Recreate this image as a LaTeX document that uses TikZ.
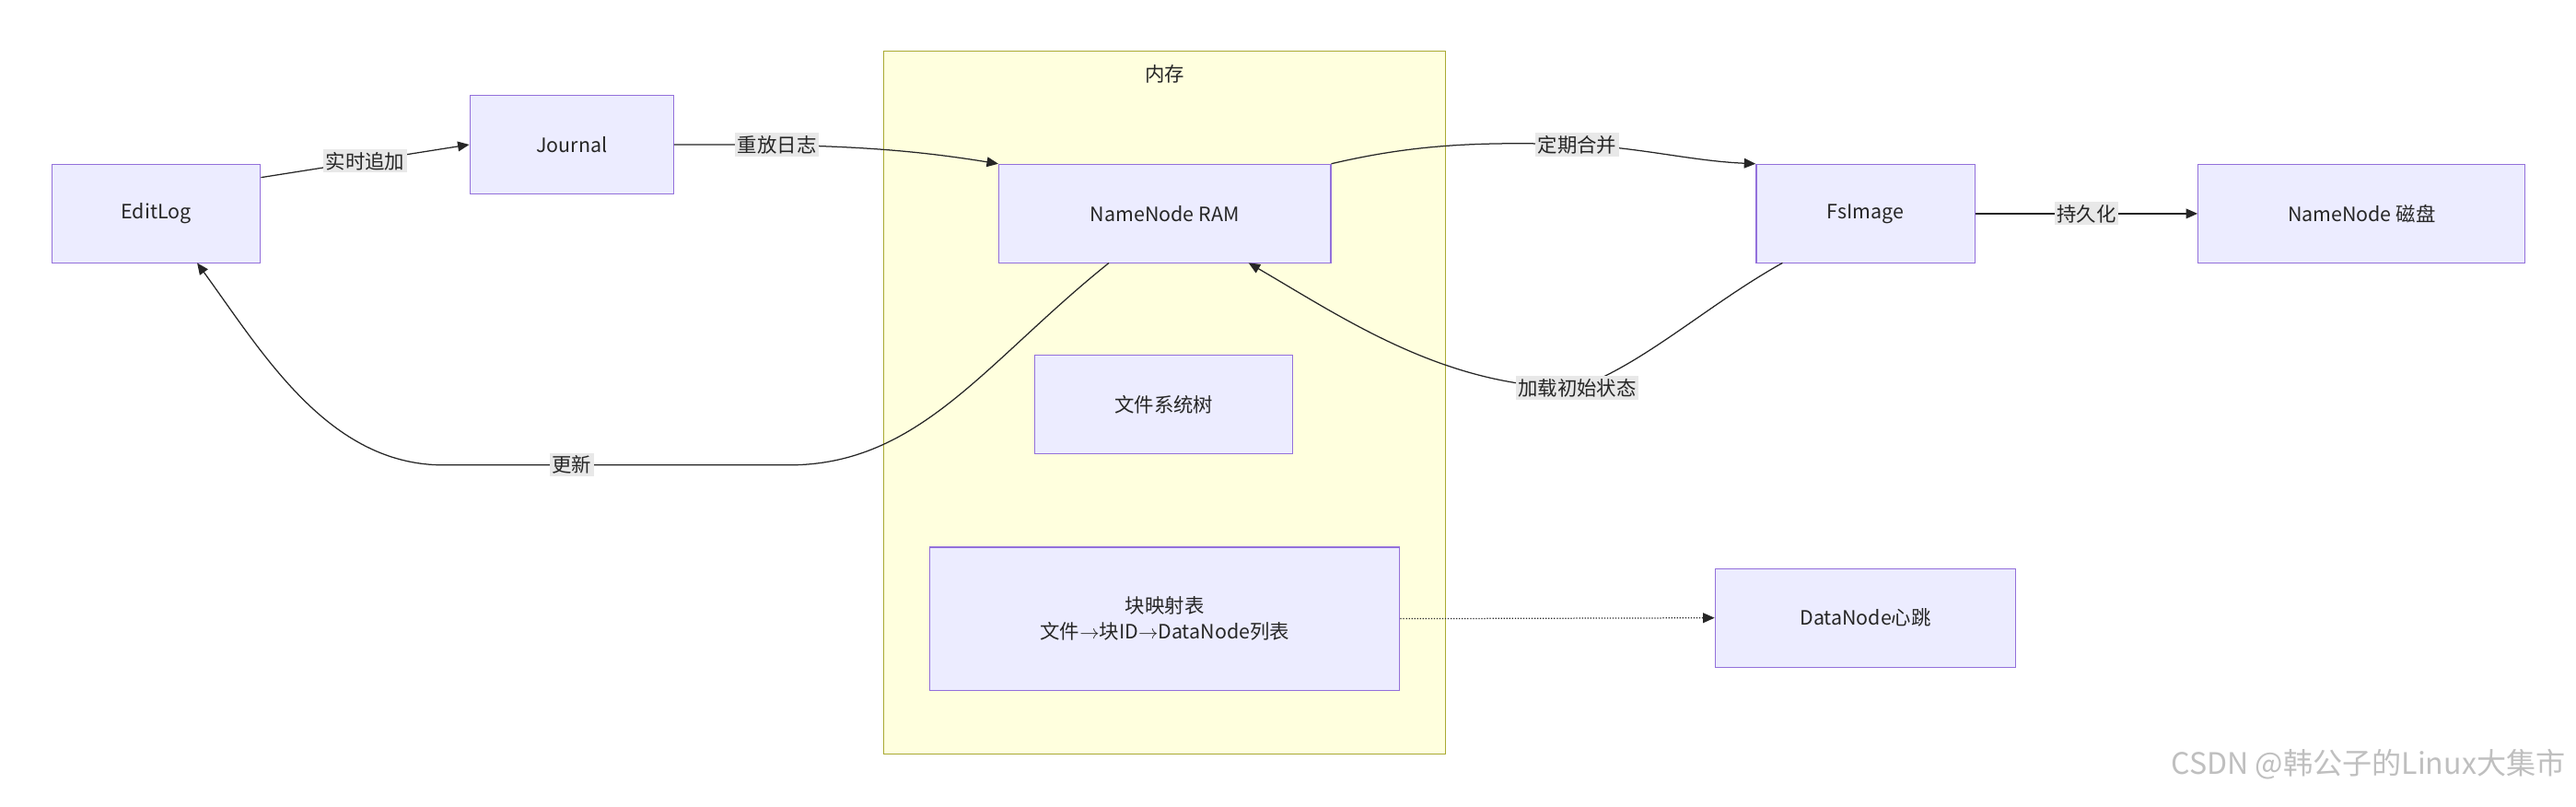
\documentclass[tikz,border=0pt]{standalone}
\usepackage{fontspec}
\setmainfont{Noto Sans CJK SC}
\usetikzlibrary{arrows.meta}
\definecolor{nf}{HTML}{ECECFF}
\definecolor{nb}{HTML}{9370DB}
\definecolor{cf}{HTML}{FFFFDE}
\definecolor{cb}{HTML}{AAAA33}
\definecolor{lb}{HTML}{E8E8E8}
\begin{document}
\begin{tikzpicture}[x=1pt,y=-1pt,
  box/.style={draw=nb,fill=nf,line width=0.7pt,inner sep=0pt,font=\fontsize{12}{16}\selectfont,text=black!85,align=center},
  lab/.style={fill=lb,inner sep=1.5pt,font=\fontsize{12}{14}\selectfont,text=black!85},
  ar/.style={-{Triangle[length=7pt,width=6pt]},line width=0.7pt,draw=black!85}]
\useasboundingbox (0,0) rectangle (1568,491);
\fill[white] (0,0) rectangle (1568,491);
\draw[cb,fill=cf,line width=0.7pt] (538,31) rectangle (880,459);
\node[font=\fontsize{12}{14}\selectfont,text=black!85] (mem) at (709,45) {内存};
\node[box,minimum width=127pt,minimum height=60pt] (edit) at (95,130) {EditLog};
\node[box,minimum width=124pt,minimum height=60pt] (jour) at (348,88) {Journal};
\node[box,minimum width=202pt,minimum height=60pt] (ram) at (709,130) {NameNode RAM};
\node[box,minimum width=157pt,minimum height=60pt] (tree) at (708.5,246) {文件系统树};
\node[box,minimum width=286pt,minimum height=87pt] (blk) at (709,376.5) {块映射表\\文件$\rightarrow$块ID$\rightarrow$DataNode列表};
\node[box,minimum width=133pt,minimum height=60pt] (fs) at (1135.5,130) {FsImage};
\node[box,minimum width=199pt,minimum height=60pt] (disk) at (1437.5,130) {NameNode 磁盘};
\node[box,minimum width=183pt,minimum height=60pt] (dn) at (1135.5,376) {DataNode心跳};
\draw[ar] (edit.east) ++(0,-22) -- node[lab]{实时追加} (jour.west);
\draw[ar] (jour.east) -- (440,88) .. controls (520,88) and (560,92) .. (ram.north west);
\node[lab] at (473,88) {重放日志};
\draw[ar] (ram.north east) .. controls (860,88) and (900,86) .. (960,88) .. controls (1000,90) and (1030,98) .. (fs.north west);
\node[lab] at (960,88) {定期合并};
\draw[ar] (fs.east) -- node[lab]{持久化} (disk.west);
\draw[ar] (1085,160) .. controls (1040,185) and (1000,222) .. (960,236) .. controls (880,236) and (820,195) .. (760,160);
\node[lab] at (960,236) {加载初始状态};
\draw[ar] (675,160) .. controls (600,220) and (560,283) .. (480,283) -- (270,283) .. controls (200,283) and (160,215) .. (120,160);
\node[lab] at (348,283) {更新};
\draw[ar,densely dotted] (blk.east) -- (dn.west);
\node[font=\fontsize{18}{20}\selectfont,text=black!25,anchor=east] (wm) at (1565,465) {CSDN @韩公子的Linux大集市};
\end{tikzpicture}
\end{document}
